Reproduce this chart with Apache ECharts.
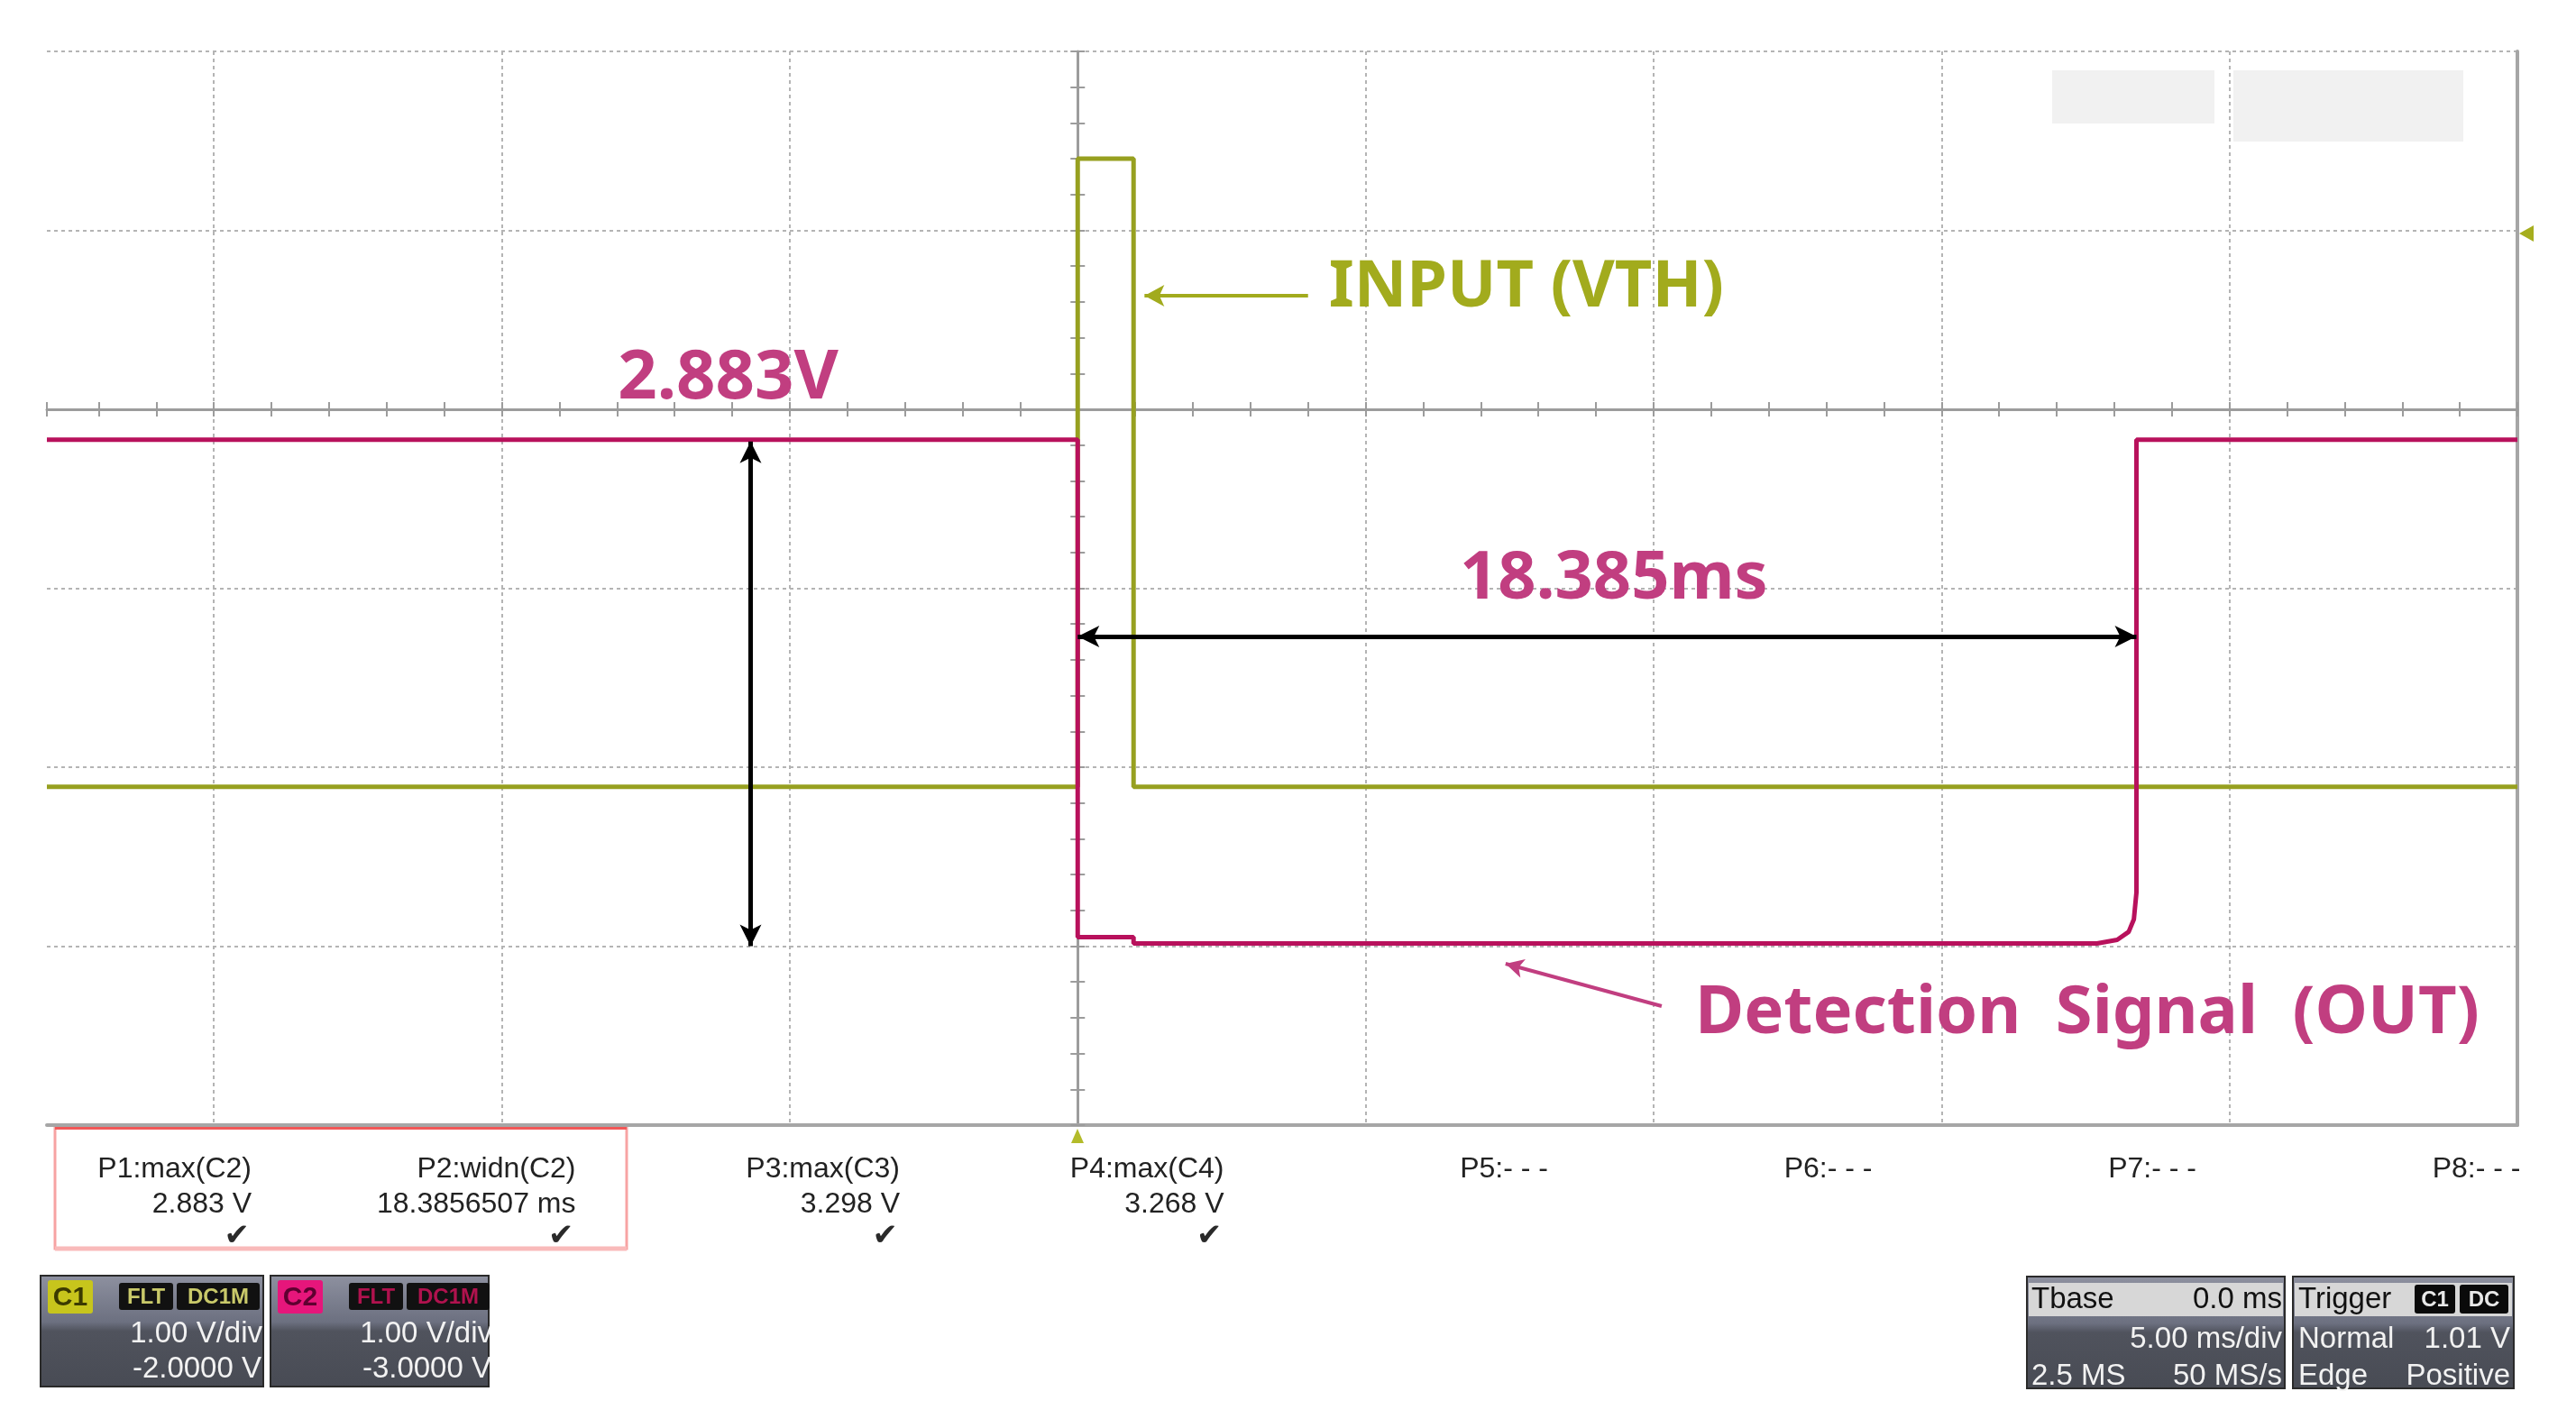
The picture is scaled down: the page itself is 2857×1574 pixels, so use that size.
<!DOCTYPE html>
<html>
<head>
<meta charset="utf-8">
<title>Detection signal</title>
<script src="https://cdn.jsdelivr.net/npm/echarts@6/dist/echarts.min.js"></script>
<style>
  html, body { margin: 0; padding: 0; background: #fff; }
  #chart { width: 2857px; height: 1574px; }
</style>
</head>
<body>
<div id="chart"></div>
<script>
// C1 : INPUT (VTH), 1.00 V/div, offset -2 V  (time in ms, level in V)
const c1Time = [-17.9, 0, 0, 0.97, 0.97, 25];
const c1Volt = [-0.11, -0.11, 3.40, 3.40, -0.11, -0.11];

// C2 : Detection Signal (OUT), 1.00 V/div, offset -3 V
const c2Time = [-17.9, 0, 0, 0.97, 0.97, 17.7, 18.05, 18.25, 18.34, 18.385, 18.385, 25];
const c2Volt = [2.83, 2.83, 0.05, 0.05, 0.015, 0.015, 0.035, 0.08, 0.15, 0.3, 2.83, 2.83];

// measured values written on the picture
const highLevel = 2.883;
const pulseWidth = 18.385;
const levelArrowTime = -5.68;
const widthArrowLevel = 1.73;

// measurement row under the screen
const measNames = ['P1:max(C2)', 'P2:widn(C2)', 'P3:max(C3)', 'P4:max(C4)', 'P5:- - -', 'P6:- - -', 'P7:- - -', 'P8:- - -'];
const measValues = ['2.883 V', '18.3856507 ms', '3.298 V', '3.268 V', '', '', '', ''];

// channel / timebase boxes
const chanNames = ['C1', 'C2'];
const chanScale = ['1.00 V/div', '1.00 V/div'];
const chanOffset = ['-2.0000 V', '-3.0000 V'];
const tbaseRows = [['Tbase', '0.0 ms'], ['', '5.00 ms/div'], ['2.5 MS', '50 MS/s']];
const trigRows = [['Trigger', ''], ['Normal', '1.01 V'], ['Edge', 'Positive']];

const YEL = '#97a020';
const YEL_TXT = '#a2ab1d';
const PINK = '#b8115c';
const PINK_TXT = '#c13e80';
const GRIDC = '#b4b4b4';
const AXC = '#a6a6a6';

const chart = echarts.init(document.getElementById('chart'));

function zip(a, b) { return a.map((v, i) => [v, b[i]]); }

const bigFont = { fontFamily: 'Noto Sans', fontWeight: 'bold' };

// ---- graphic pieces (panels under the screen) ----
const g = [];
const txtFont = 'Liberation Sans';

// blanked boxes top right
g.push({ type: 'rect', shape: { x: 2276, y: 78, width: 180, height: 59 }, style: { fill: '#f1f1f1' } });
g.push({ type: 'rect', shape: { x: 2477, y: 78, width: 255, height: 79 }, style: { fill: '#f1f1f1' } });

// trigger markers
g.push({ type: 'polygon', shape: { points: [[1195, 1252], [1188, 1268], [1202, 1268]] }, style: { fill: '#b3bb2a' } });
g.push({ type: 'polygon', shape: { points: [[2794, 259], [2810, 250], [2810, 268]] }, style: { fill: '#a6ae1e' } });

// red box around P1/P2
g.push({ type: 'rect', shape: { x: 61, y: 1251, width: 634, height: 134 }, style: { fill: 'none', stroke: '#f7a3a3', lineWidth: 3 } });
g.push({ type: 'line', shape: { x1: 61, y1: 1251, x2: 695, y2: 1251 }, style: { stroke: '#f25858', lineWidth: 4 } });
g.push({ type: 'line', shape: { x1: 61, y1: 1385, x2: 695, y2: 1385 }, style: { stroke: '#f9baba', lineWidth: 5 } });

measNames.forEach((name, i) => {
  const xr = 279 + i * 359.5;
  g.push({ type: 'text', x: xr, y: 1297, style: { text: name, fill: '#222', font: '32px ' + txtFont, textAlign: 'right', textVerticalAlign: 'middle' } });
  if (measValues[i]) {
    g.push({ type: 'text', x: xr, y: 1336, style: { text: measValues[i], fill: '#222', font: '32px ' + txtFont, textAlign: 'right', textVerticalAlign: 'middle' } });
    g.push({ type: 'text', x: xr - 2, y: 1372, style: { text: '\u2714', fill: '#2a2a2a', font: '34px DejaVu Sans', textAlign: 'right', textVerticalAlign: 'middle' } });
  }
});

function boxBg(x, y, w, h) {
  return {
    type: 'rect', shape: { x: x, y: y, width: w, height: h },
    style: {
      fill: new echarts.graphic.LinearGradient(0, 0, 0, 1, [
        { offset: 0, color: '#8e91a0' }, { offset: 0.42, color: '#6c7080' },
        { offset: 0.5, color: '#50535d' }, { offset: 1, color: '#484b54' }
      ]),
      stroke: '#2a2a2a', lineWidth: 2
    }
  };
}
function badge(x, y, w, h, fill, text, color, size) {
  g.push({ type: 'rect', shape: { x: x, y: y, width: w, height: h, r: 3 }, style: { fill: fill } });
  g.push({ type: 'text', x: x + w / 2, y: y + h / 2 + 1, style: { text: text, fill: color, font: 'bold ' + size + 'px ' + txtFont, textAlign: 'center', textVerticalAlign: 'middle' } });
}
function boxText(x, y, text, align, color) {
  g.push({ type: 'text', x: x, y: y, style: { text: text, fill: color || '#f2f2f2', font: '33px ' + txtFont, textAlign: align, textVerticalAlign: 'middle' } });
}

// channel boxes
const chanLeft = [45, 300];
const chanBadge = [['#c7c51c', '#3b3a00', '#c9c96a'], ['#e6167b', '#5e0030', '#b0124e']];
chanNames.forEach((c, i) => {
  const x0 = chanLeft[i];
  g.push(boxBg(x0, 1415, i === 0 ? 247 : 242, 123));
  badge(x0 + 8, 1420, 50, 37, chanBadge[i][0], c, chanBadge[i][1], 30);
  badge(x0 + 87, 1423, 60, 30, '#111', 'FLT', chanBadge[i][2], 24);
  badge(x0 + 151, 1423, 92, 30, '#111', 'DC1M', chanBadge[i][2], 24);
  boxText(x0 + 246, 1480, chanScale[i], 'right');
  boxText(x0 + 245, 1519, chanOffset[i], 'right');
});
// C2 box is cut at its right side
g.push({ type: 'rect', shape: { x: 543, y: 1410, width: 30, height: 135 }, style: { fill: '#fff' } });

// timebase box
g.push(boxBg(2248, 1416, 286, 124));
g.push({ type: 'rect', shape: { x: 2250, y: 1423, width: 282, height: 37 }, style: { fill: '#d7d7d7' } });
const rowY = [1442, 1486, 1527];
tbaseRows.forEach((r, i) => {
  const col = i === 0 ? '#111' : '#f2f2f2';
  if (r[0]) boxText(2253, rowY[i], r[0], 'left', col);
  if (r[1]) boxText(2531, rowY[i], r[1], 'right', col);
});
// trigger box
g.push(boxBg(2543, 1416, 245, 124));
g.push({ type: 'rect', shape: { x: 2545, y: 1423, width: 241, height: 37 }, style: { fill: '#d7d7d7' } });
trigRows.forEach((r, i) => {
  const col = i === 0 ? '#111' : '#f2f2f2';
  if (r[0]) boxText(2549, rowY[i], r[0], 'left', col);
  if (r[1]) boxText(2784, rowY[i], r[1], 'right', col);
});
badge(2678, 1425, 45, 32, '#0a0a0a', 'C1', '#e8e8e8', 24);
badge(2728, 1425, 54, 32, '#0a0a0a', 'DC', '#e8e8e8', 24);

// ---- axes ----
const hidden = { axisLabel: { show: false }, axisTick: { show: false }, splitLine: { show: false } };
const gridLine = { show: true, showMinLine: false, lineStyle: { color: GRIDC, width: 2, type: [4, 4] } };

const option = {
  animation: false,
  backgroundColor: '#fff',
  grid: { left: 52, right: 65, top: 57, bottom: 326, containLabel: false },
  xAxis: [
    Object.assign({}, hidden, {
      type: 'value', min: -17.9, max: 25, minInterval: 5, maxInterval: 5, splitNumber: 9, position: 'bottom',
      axisLine: { show: true, onZero: false, lineStyle: { color: AXC, width: 4 } },
      splitLine: Object.assign({}, gridLine, { showMaxLine: false })
    }),
    Object.assign({}, hidden, {
      type: 'value', min: -17.9, max: 25, minInterval: 1, maxInterval: 1, splitNumber: 43, position: 'bottom',
      axisLine: { show: true, onZero: true, onZeroAxisIndex: 2, lineStyle: { color: '#9c9c9c', width: 3 } },
      axisTick: { show: true, inside: true, length: 8, lineStyle: { color: '#9c9c9c', width: 2 } }
    }),
    Object.assign({}, hidden, {
      type: 'value', min: -17.9, max: 25, minInterval: 1, maxInterval: 1, splitNumber: 43, position: 'bottom',
      axisLine: { show: false, onZero: true, onZeroAxisIndex: 2 },
      axisTick: { show: true, inside: false, length: 8, lineStyle: { color: '#9c9c9c', width: 2 } }
    })
  ],
  yAxis: [
    Object.assign({}, hidden, {
      type: 'value', min: -2, max: 4, interval: 1, position: 'left',
      axisLine: { show: false },
      splitLine: Object.assign({}, gridLine, { showMaxLine: true })
    }),
    Object.assign({}, hidden, {
      type: 'value', min: -1, max: 5, interval: 1, position: 'right',
      axisLine: { show: true, onZero: false, lineStyle: { color: AXC, width: 4 } }
    }),
    Object.assign({}, hidden, {
      type: 'value', min: -4, max: 2, interval: 0.2, position: 'left',
      axisLine: { show: true, onZero: true, onZeroAxisIndex: 0, lineStyle: { color: '#9c9c9c', width: 3 } },
      axisTick: { show: true, inside: true, length: 8, lineStyle: { color: '#9c9c9c', width: 2 } }
    }),
    Object.assign({}, hidden, {
      type: 'value', min: -4, max: 2, interval: 0.2, position: 'left',
      axisLine: { show: false, onZero: true, onZeroAxisIndex: 0 },
      axisTick: { show: true, inside: false, length: 8, lineStyle: { color: '#9c9c9c', width: 2 } }
    })
  ],
  series: [
    {
      name: 'C1', type: 'line', xAxisIndex: 0, yAxisIndex: 0,
      data: zip(c1Time, c1Volt), symbol: 'none', z: 3,
      lineStyle: { color: YEL, width: 5 },
      markLine: {
        silent: true, animation: false, label: { show: false },
        data: [[
          { coord: [4.0, 2.635], symbol: 'none', lineStyle: { color: YEL_TXT, width: 4, type: 'solid' } },
          { coord: [1.16, 2.635], symbol: 'arrow', symbolSize: [18, 22] }
        ]]
      },
      markPoint: {
        silent: true, symbol: 'rect', symbolSize: 1, itemStyle: { color: 'rgba(0,0,0,0)' },
        data: [{
          coord: [7.79, 2.68], value: 'INPUT (VTH)',
          label: Object.assign({ show: true, position: 'inside', formatter: '{c}', color: YEL_TXT, fontSize: 72 }, bigFont)
        }]
      }
    },
    {
      name: 'C2', type: 'line', xAxisIndex: 0, yAxisIndex: 1,
      data: zip(c2Time, c2Volt), symbol: 'none', z: 4,
      lineStyle: { color: PINK, width: 5 },
      markLine: {
        silent: true, animation: false, label: { show: false },
        data: [
          [
            { coord: [levelArrowTime, 0], symbol: 'arrow', symbolSize: [18, 24], lineStyle: { color: '#000', width: 5, type: 'solid' } },
            { coord: [levelArrowTime, 2.82], symbol: 'arrow', symbolSize: [18, 24] }
          ],
          [
            { coord: [0, widthArrowLevel], symbol: 'arrow', symbolSize: [18, 24], lineStyle: { color: '#000', width: 5, type: 'solid' } },
            { coord: [pulseWidth, widthArrowLevel], symbol: 'arrow', symbolSize: [18, 24] }
          ],
          [
            { coord: [10.14, -0.335], symbol: 'none', lineStyle: { color: PINK_TXT, width: 4, type: 'solid' } },
            { coord: [7.43, -0.098], symbol: 'arrow', symbolSize: [16, 20] }
          ]
        ]
      },
      markPoint: {
        silent: true, symbol: 'rect', symbolSize: 1, itemStyle: { color: 'rgba(0,0,0,0)' },
        data: [
          {
            coord: [-6.07, 3.17], value: highLevel.toFixed(3) + 'V',
            label: Object.assign({ show: true, position: 'inside', formatter: '{c}', color: PINK_TXT, fontSize: 76 }, bigFont)
          },
          {
            coord: [9.31, 2.05], value: pulseWidth.toFixed(3) + 'ms',
            label: Object.assign({ show: true, position: 'inside', formatter: '{c}', color: PINK_TXT, fontSize: 74 }, bigFont)
          },
          {
            coord: [17.53, -0.38], value: 'Detection  Signal  (OUT)',
            label: Object.assign({ show: true, position: 'inside', formatter: '{c}', color: PINK_TXT, fontSize: 74 }, bigFont)
          }
        ]
      }
    }
  ],
  graphic: g
};

chart.setOption(option);
</script>
</body>
</html>
